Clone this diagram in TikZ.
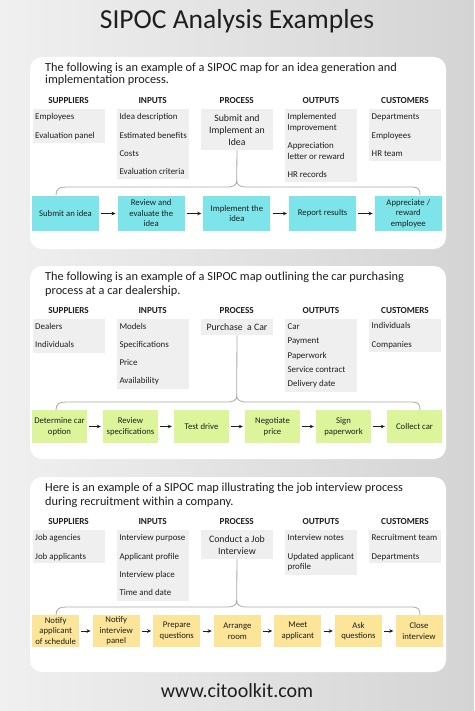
\documentclass[tikz,border=0pt]{standalone}
\usepackage{fontspec}
\setmainfont{Carlito}
\usetikzlibrary{positioning, arrows.meta, calc}

\definecolor{bgleft}{RGB}{240,240,240}
\definecolor{bgright}{RGB}{212,212,212}
\definecolor{boxgray}{RGB}{239,239,239}
\definecolor{stepcyan}{RGB}{125,229,233}
\definecolor{steplime}{RGB}{220,245,155}
\definecolor{stepsand}{RGB}{252,229,152}
\definecolor{linegray}{RGB}{170,170,170}
\definecolor{ink}{RGB}{30,30,30}

\tikzset{
  panel/.style={fill=white, rounded corners=12pt},
  intro/.style={font=\fontsize{12.3}{12}\selectfont, align=left, anchor=base west, inner sep=0pt, text=ink},
  head/.style={font=\bfseries\fontsize{9.2}{10}\selectfont, inner sep=0pt, text height=6.5pt, text depth=1pt, text=ink},
  gbox/.style={fill=boxgray, inner sep=0pt, anchor=north west, minimum width=72.5},
  procbox/.style={gbox, align=center, font=\fontsize{9.8}{12}\selectfont, text=ink},
  item/.style={font=\fontsize{8.9}{10}\selectfont, inner sep=0pt, text height=6.5pt, text depth=1.5pt, anchor=west, text=ink},
  stepbox/.style={font=\fontsize{8.7}{10.5}\selectfont, align=center, inner sep=1pt, text=ink},
  flow/.style={-{Stealth[length=4pt,width=3.6pt]}, line width=0.9pt, draw=ink, shorten <=2pt, shorten >=2pt},
  link/.style={draw=linegray, line width=0.8pt},
}

\begin{document}
\begin{tikzpicture}[x=1pt, y=-1pt]
\useasboundingbox (0,0) rectangle (474,711);
\shade[left color=bgleft, right color=bgright] (0,0) rectangle (474,711);

\node[font=\fontsize{27.5}{30}\selectfont, anchor=base, text=ink] (title) at (237,29) {SIPOC Analysis Examples};

% panels
\fill[panel] (30,57) rectangle (446,249);
\fill[panel] (30,266) rectangle (446,459);
\fill[panel] (30,477) rectangle (446,672);

\node[intro] (intro1) at (45,83.3) {The following is an example of a SIPOC map for an idea generation and\\implementation process.};
\node[intro, font=\fontsize{12.3}{14}\selectfont] (intro2) at (45,294.5) {The following is an example of a SIPOC map outlining the car purchasing\\process at a car dealership.};
\node[intro, font=\fontsize{12.3}{14}\selectfont] (intro3) at (45,505.5) {Here is an example of a SIPOC map illustrating the job interview process\\during recruitment within a company.};

% column heads
\foreach \y [count=\p] in {101,311,522}
  \foreach \h [count=\i] in {SUPPLIERS, INPUTS, PROCESS, OUTPUTS, CUSTOMERS}
    \node[head] (h\p\i) at ({68.55+84.1*(\i-1)},\y) {\h};

% --- idea generation ---
\foreach \j/\bot in {1/143, 2/179, 4/182, 5/161}
  \node[gbox, minimum height={\bot-109}] (b1\j) at ({32.3+84.1*(\j-1)},109) {};
\node[procbox, minimum height=41] (b13) at (200.5,109) {Submit and\\Implement an\\Idea};
\foreach \t/\y [count=\k] in {Employees/117, Evaluation panel/136}
  \node[item] (t11\k) at (35,\y) {\t};
\foreach \t/\y [count=\k] in {Idea description/117, Estimated benefits/136, Costs/154, Evaluation criteria/172}
  \node[item] (t12\k) at (119.3,\y) {\t};
\foreach \t/\y [count=\k] in {Implemented/117, Improvement/128, Appreciation/146, letter or reward/157, HR records/175}
  \node[item] (t14\k) at (287.4,\y) {\t};
\foreach \t/\y [count=\k] in {Departments/117, Employees/136, HR team/154}
  \node[item] (t15\k) at (371.5,\y) {\t};

\foreach \t [count=\i] in {Submit an idea, {Review and\\evaluate the\\idea}, {Implement the\\idea}, Report results, {Appreciate /\\reward\\employee}}
  \node[stepbox, fill=stepcyan, minimum width=67, minimum height=35] (a\i) at ({65.5+85.7*(\i-1)},213.5) {\t};
\foreach \i/\j in {1/2, 2/3, 3/4, 4/5}
  \draw[flow] (a\i) -- (a\j);

% --- car purchasing ---
\foreach \j/\bot in {1/353, 2/389, 4/392, 5/352}
  \node[gbox, minimum height={\bot-319}] (b2\j) at ({32.3+84.1*(\j-1)},319) {};
\node[procbox, minimum height=16] (b23) at (200.5,319) {Purchase\ \ a Car};
\foreach \t/\y [count=\k] in {Dealers/327, Individuals/345}
  \node[item] (t21\k) at (35,\y) {\t};
\foreach \t/\y [count=\k] in {Models/327, Specifications/345, Price/363, Availability/381}
  \node[item] (t22\k) at (119.3,\y) {\t};
\foreach \t/\y [count=\k] in {Car/327, Payment/341, Paperwork/355.5, Service contract/370, Delivery date/384}
  \node[item] (t24\k) at (287.4,\y) {\t};
\foreach \t/\y [count=\k] in {Individuals/326, Companies/345}
  \node[item] (t25\k) at (371.5,\y) {\t};

\foreach \t [count=\i] in {{Determine car\\option}, {Review\\specifications}, Test drive, {Negotiate\\price}, {Sign\\paperwork}, Collect car}
  \node[stepbox, fill=steplime, minimum width=55, minimum height=33, font=\fontsize{8.7}{11}\selectfont] (c\i) at ({59.5+71*(\i-1)},426.5) {\t};
\foreach \i/\j in {1/2, 2/3, 3/4, 4/5, 5/6}
  \draw[flow] (c\i) -- (c\j);

% --- job interview ---
\foreach \j/\bot in {1/563, 2/601, 4/575, 5/563}
  \node[gbox, minimum height={\bot-530}] (b3\j) at ({32.3+84.1*(\j-1)},530) {};
\node[procbox, minimum height=29] (b33) at (200.5,530) {Conduct a Job\\Interview};
\foreach \t/\y [count=\k] in {Job agencies/538, Job applicants/557}
  \node[item] (t31\k) at (35,\y) {\t};
\foreach \t/\y [count=\k] in {Interview purpose/538, Applicant profile/557, Interview place/575, Time and date/593}
  \node[item] (t32\k) at (119.3,\y) {\t};
\foreach \t/\y [count=\k] in {Interview notes/538, Updated applicant/557, profile/567}
  \node[item] (t34\k) at (287.4,\y) {\t};
\foreach \t/\y [count=\k] in {Recruitment team/538, Departments/557}
  \node[item] (t35\k) at (371.5,\y) {\t};

\foreach \t [count=\i] in {{Notify\\applicant\\of schedule}, {Notify\\interview\\panel}, {Prepare\\questions}, {Arrange\\room}, {Meet\\applicant}, {Ask\\questions}, {Close\\interview}}
  \node[stepbox, fill=stepsand, minimum width=47, minimum height=32] (d\i) at ({55.7+60.55*(\i-1)},631) {\t};
\foreach \i/\j in {1/2, 2/3, 3/4, 4/5, 5/6, 6/7}
  \draw[flow] (d\i) -- (d\j);

% braces from the process box to the steps
\foreach \n/\yb in {1/187, 2/402, 3/607} {
  \coordinate (tip\n) at (236.75,\yb-6);
  \draw[link] (b\n3.south) -- (tip\n);
  \draw[link] (56,\yb+8) .. controls (56,\yb+2) and (59,\yb) .. (66,\yb) -- (228,\yb)
    .. controls (233,\yb) and (236.75,\yb-2) .. (tip\n)
    .. controls (236.75,\yb-2) and (240.5,\yb) .. (245.5,\yb) -- (412,\yb)
    .. controls (418,\yb) and (420,\yb+2) .. (420,\yb+8);
}

\node[font=\fontsize{20}{22}\selectfont, anchor=base, text=ink] (site) at (237,697) {www.citoolkit.com};
\end{tikzpicture}
\end{document}
